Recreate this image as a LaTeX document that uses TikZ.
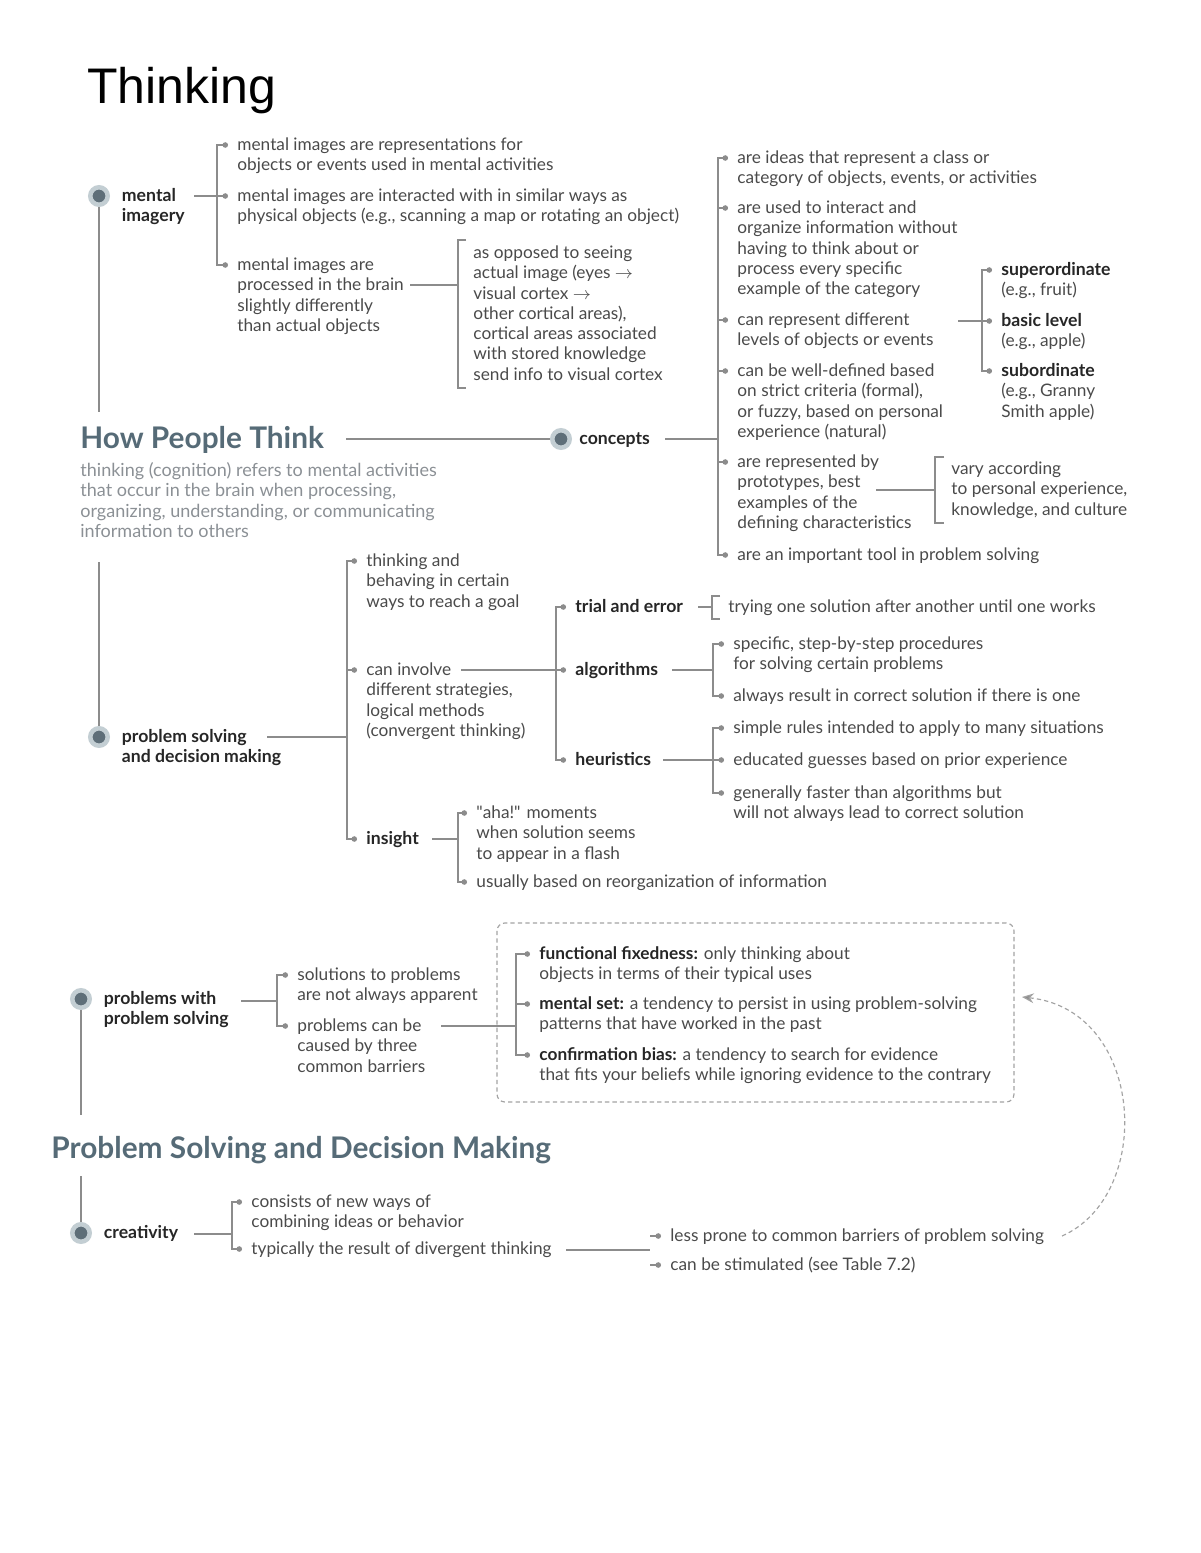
\documentclass[tikz,border=0pt]{standalone}
\usepackage{fontspec}
\setmainfont{Lato}
\newfontfamily\titlefont{Liberation Sans}
\usetikzlibrary{arrows.meta}

\definecolor{TextGray}{HTML}{4A4A4A}
\definecolor{LabelBlack}{HTML}{262626}
\definecolor{HeadBlue}{HTML}{566B77}
\definecolor{SubGray}{HTML}{8B9095}
\definecolor{LineGray}{HTML}{8C8C8C}
\definecolor{DotGray}{HTML}{5E6E78}
\definecolor{Halo}{HTML}{C3CED3}

\newcommand{\keyterm}[1]{\textcolor{LabelBlack}{\bfseries #1}}
% lines of a node, its baseline on the first one
\newcommand{\textlines}[1]{\begin{tabular}[t]{@{}l@{}}#1\end{tabular}}

\begin{document}
\begin{tikzpicture}[x=0.51pt, y=-0.51pt]
\useasboundingbox (0,0) rectangle (1200,1553);

\coordinate (TT) at (87,104);
\coordinate (HP) at (80,438);
\coordinate (HP_n) at (80,471);
\coordinate (HP_s) at (346,439);
\coordinate (HD) at (51,1148);

\coordinate (MI) at (99,196);
\coordinate (CO) at (561,439);
\coordinate (PS) at (99,737);
\coordinate (PP) at (81,999);
\coordinate (CR) at (81,1233);
\coordinate (SP_1) at (99,412);
\coordinate (SP_2) at (99,562);
\coordinate (SP_3) at (81,1115);
\coordinate (SP_4) at (81,1176);

\coordinate (MI_s) at (194,196);
\coordinate (MI_j) at (217,196);
\coordinate (MI_1) at (228,145);
\coordinate (MI_2) at (228,196);
\coordinate (MI_3) at (228,265);
\coordinate (OP_s) at (410,285);
\coordinate (OP_j) at (458,285);
\coordinate (OP_t) at (466,240);
\coordinate (OP_b) at (466,388);
\coordinate (OP_n) at (473,253);

\coordinate (CO_s) at (665,439);
\coordinate (CO_j) at (718,439);
\coordinate (CO_1) at (728,158);
\coordinate (CO_2) at (728,208);
\coordinate (CO_3) at (728,320);
\coordinate (CO_4) at (728,371);
\coordinate (CO_5) at (728,462);
\coordinate (CO_6) at (728,555);
\coordinate (LV_s) at (958,321);
\coordinate (LV_j) at (982,321);
\coordinate (LV_1) at (992,270);
\coordinate (LV_2) at (992,321);
\coordinate (LV_3) at (992,371);
\coordinate (VA_s) at (876,490);
\coordinate (VA_j) at (935,490);
\coordinate (VA_t) at (944,457);
\coordinate (VA_b) at (944,523);
\coordinate (VA_n) at (951,469);

\coordinate (PS_s) at (267,737);
\coordinate (PS_j) at (347,737);
\coordinate (PS_1) at (357,561);
\coordinate (PS_2) at (357,670);
\coordinate (PS_3) at (357,839);
\coordinate (ST_s) at (461,670);
\coordinate (ST_j) at (556,670);
\coordinate (ST_1) at (566,607);
\coordinate (ST_2) at (566,670);
\coordinate (ST_3) at (566,760);
\coordinate (TE_s) at (698,607);
\coordinate (TE_j) at (712,607);
\coordinate (TE_t) at (720,596);
\coordinate (TE_b) at (720,619);
\coordinate (TE_n) at (728,607);
\coordinate (AL_s) at (672,670);
\coordinate (AL_j) at (713,670);
\coordinate (AL_1) at (724,644);
\coordinate (AL_2) at (724,696);
\coordinate (HE_s) at (663,760);
\coordinate (HE_j) at (713,760);
\coordinate (HE_1) at (724,728);
\coordinate (HE_2) at (724,760);
\coordinate (HE_3) at (724,793);
\coordinate (IN_s) at (432,839);
\coordinate (IN_j) at (458,839);
\coordinate (IN_1) at (467,813);
\coordinate (IN_2) at (467,882);

\coordinate (PP_s) at (241,1001);
\coordinate (PP_j) at (277,1001);
\coordinate (PP_1) at (288,975);
\coordinate (PP_2) at (288,1026);
\coordinate (BA_s) at (441,1026);
\coordinate (BA_j) at (516,1026);
\coordinate (BA_1) at (530,954);
\coordinate (BA_2) at (530,1004);
\coordinate (BA_3) at (530,1055);
\coordinate (BOX_a) at (497,923);
\coordinate (BOX_b) at (1014,1102);
\coordinate (CR_s) at (194,1234);
\coordinate (CR_j) at (232,1234);
\coordinate (CR_1) at (242,1202);
\coordinate (CR_2) at (242,1249);
\coordinate (DV_s) at (566,1250);
\coordinate (DV_e) at (650,1250);
\coordinate (DV_1) at (661,1236);
\coordinate (DV_2) at (661,1265);
\coordinate (LOOP_a) at (1062,1236);
\coordinate (LOOP_b) at (1022,997);


\tikzset{TextBase/.style = {anchor=base west, inner sep=0pt,
 text=TextGray, font=\fontsize{8.8}{10.35}\selectfont} }
\tikzset{ItemStyle/.style = {TextBase, xshift=4.6pt, yshift=-2.8pt} }
\tikzset{NoteStyle/.style = {TextBase, yshift=-2.8pt} }
\tikzset{BoldStyle/.style = {TextBase, xshift=4.6pt, yshift=-2.9pt,
 text=LabelBlack, font=\fontsize{9}{10.35}\selectfont\bfseries} }
\tikzset{LabelStyle/.style = {TextBase, xshift=11.5pt, yshift=-2.9pt,
 text=LabelBlack, font=\fontsize{9}{10.35}\selectfont\bfseries} }
\tikzset{HeadStyle/.style = {TextBase, yshift=-5.6pt,
 text=HeadBlue, font=\fontsize{15.2}{17}\selectfont\bfseries} }
\tikzset{HubStyle/.style = {
 shape = circle,
 fill = DotGray,
 draw = Halo,
 line width = 2.3pt,
 inner sep = 0pt,
 minimum size = 8.9pt} }

\node[TextBase, text=black, font=\titlefont\fontsize{25.5}{30}\selectfont] (title) at (TT) {Thinking};
\node[HeadStyle] (tHP) at (HP) {How People Think};
\node[NoteStyle, text=SubGray, font=\fontsize{9.2}{10.35}\selectfont] (tHP_n) at (HP_n)
 {\textlines{thinking (cognition) refers to mental activities\\that occur in the brain when processing,\\organizing, understanding, or communicating\\information to others}};
\node[HeadStyle] (tHD) at (HD) {Problem Solving and Decision Making};

\node[HubStyle] (hMI) at (MI) {};
\node[HubStyle] (hCO) at (CO) {};
\node[HubStyle] (hPS) at (PS) {};
\node[HubStyle] (hPP) at (PP) {};
\node[HubStyle] (hCR) at (CR) {};

\node[LabelStyle] (tMI) at (MI) {\textlines{mental\\imagery}};
\node[LabelStyle, xshift=-2.3pt] (tCO) at (CO) {concepts};
\node[LabelStyle] (tPS) at (PS) {\textlines{problem solving\\and decision making}};
\node[LabelStyle] (tPP) at (PP) {\textlines{problems with\\problem solving}};
\node[LabelStyle] (tCR) at (CR) {creativity};

\node[ItemStyle] (tMI_1) at (MI_1) {\textlines{mental images are representations for\\objects or events used in mental activities}};
\node[ItemStyle] (tMI_2) at (MI_2) {\textlines{mental images are interacted with in similar ways as\\physical objects (e.g., scanning a map or rotating an object)}};
\node[ItemStyle] (tMI_3) at (MI_3) {\textlines{mental images are\\processed in the brain\\slightly differently\\than actual objects}};
\node[NoteStyle] (tOP) at (OP_n) {\textlines{as opposed to seeing\\actual image (eyes $\rightarrow$\\visual cortex $\rightarrow$\\other cortical areas),\\cortical areas associated\\with stored knowledge\\send info to visual cortex}};

\node[ItemStyle] (tCO_1) at (CO_1) {\textlines{are ideas that represent a class or\\category of objects, events, or activities}};
\node[ItemStyle] (tCO_2) at (CO_2) {\textlines{are used to interact and\\organize information without\\having to think about or\\process every specific\\example of the category}};
\node[ItemStyle] (tCO_3) at (CO_3) {\textlines{can represent different\\levels of objects or events}};
\node[ItemStyle] (tCO_4) at (CO_4) {\textlines{can be well-defined based\\on strict criteria (formal),\\or fuzzy, based on personal\\experience (natural)}};
\node[ItemStyle] (tCO_5) at (CO_5) {\textlines{are represented by\\prototypes, best\\examples of the\\defining characteristics}};
\node[ItemStyle] (tCO_6) at (CO_6) {are an important tool in problem solving};
\node[ItemStyle] (tLV_1) at (LV_1) {\textlines{{\fontsize{9}{10.35}\selectfont\keyterm{superordinate}}\\(e.g., fruit)}};
\node[ItemStyle] (tLV_2) at (LV_2) {\textlines{{\fontsize{9}{10.35}\selectfont\keyterm{basic level}}\\(e.g., apple)}};
\node[ItemStyle] (tLV_3) at (LV_3) {\textlines{{\fontsize{9}{10.35}\selectfont\keyterm{subordinate}}\\(e.g., Granny\\Smith apple)}};
\node[NoteStyle] (tVA) at (VA_n) {\textlines{vary according\\to personal experience,\\knowledge, and culture}};

\node[ItemStyle] (tPS_1) at (PS_1) {\textlines{thinking and\\behaving in certain\\ways to reach a goal}};
\node[ItemStyle] (tPS_2) at (PS_2) {\textlines{can involve\\different strategies,\\logical methods\\(convergent thinking)}};
\node[BoldStyle] (tPS_3) at (PS_3) {insight};
\node[BoldStyle] (tST_1) at (ST_1) {trial and error};
\node[BoldStyle] (tST_2) at (ST_2) {algorithms};
\node[BoldStyle] (tST_3) at (ST_3) {heuristics};
\node[NoteStyle] (tTE) at (TE_n) {trying one solution after another until one works};
\node[ItemStyle] (tAL_1) at (AL_1) {\textlines{specific, step-by-step procedures\\for solving certain problems}};
\node[ItemStyle] (tAL_2) at (AL_2) {always result in correct solution if there is one};
\node[ItemStyle] (tHE_1) at (HE_1) {simple rules intended to apply to many situations};
\node[ItemStyle] (tHE_2) at (HE_2) {educated guesses based on prior experience};
\node[ItemStyle] (tHE_3) at (HE_3) {\textlines{generally faster than algorithms but\\will not always lead to correct solution}};
\node[ItemStyle] (tIN_1) at (IN_1) {\textlines{\textquotedbl aha!\textquotedbl{} moments\\when solution seems\\to appear in a flash}};
\node[ItemStyle] (tIN_2) at (IN_2) {usually based on reorganization of information};

\node[ItemStyle] (tPP_1) at (PP_1) {\textlines{solutions to problems\\are not always apparent}};
\node[ItemStyle] (tPP_2) at (PP_2) {\textlines{problems can be\\caused by three\\common barriers}};
\node[ItemStyle] (tBA_1) at (BA_1) {\textlines{\keyterm{functional fixedness:} only thinking about\\objects in terms of their typical uses}};
\node[ItemStyle] (tBA_2) at (BA_2) {\textlines{\keyterm{mental set:} a tendency to persist in using problem-solving\\patterns that have worked in the past}};
\node[ItemStyle] (tBA_3) at (BA_3) {\textlines{\keyterm{confirmation bias:} a tendency to search for evidence\\that fits your beliefs while ignoring evidence to the contrary}};
\node[ItemStyle] (tCR_1) at (CR_1) {\textlines{consists of new ways of\\combining ideas or behavior}};
\node[ItemStyle] (tCR_2) at (CR_2) {typically the result of divergent thinking};
\node[ItemStyle] (tDV_1) at (DV_1) {less prone to common barriers of problem solving};
\node[ItemStyle] (tDV_2) at (DV_2) {can be stimulated (see Table 7.2)};


\tikzset{LinkStyle/.style = {draw=LineGray, line width=0.7pt} }
\tikzset{HookStyle/.style = {LinkStyle, -{Circle[length=2.8pt]}} }
\tikzset{BoxStyle/.style = {draw=LineGray!80, line width=0.6pt, dash pattern=on 2.2pt off 1.6pt, rounded corners=4pt} }
\tikzset{LoopStyle/.style = {draw=LineGray!80, line width=0.6pt, dash pattern=on 2.2pt off 1.6pt,
 -{Stealth[length=6pt, width=5pt, fill=LineGray]}} }

% spines
\draw[LinkStyle] (hMI) -- (SP_1);
\draw[LinkStyle] (SP_2) -- (hPS);
\draw[LinkStyle] (hPP) -- (SP_3);
\draw[LinkStyle] (SP_4) -- (hCR);
\draw[LinkStyle] (HP_s) -- (hCO);

% mental imagery
\draw[LinkStyle] (MI_s) -- (MI_j);
\foreach \c in {MI_1,MI_2,MI_3} \draw[HookStyle] (MI_j) |- (\c);
\draw[LinkStyle] (OP_s) -- (OP_j);
\draw[LinkStyle] (OP_t) -| (OP_j |- OP_b) -- (OP_b);

% concepts
\draw[LinkStyle] (CO_s) -- (CO_j);
\foreach \c in {CO_1,CO_2,CO_3,CO_4,CO_5,CO_6} \draw[HookStyle] (CO_j) |- (\c);
\draw[LinkStyle] (LV_s) -- (LV_j);
\foreach \c in {LV_1,LV_2,LV_3} \draw[HookStyle] (LV_j) |- (\c);
\draw[LinkStyle] (VA_s) -- (VA_j);
\draw[LinkStyle] (VA_t) -| (VA_j |- VA_b) -- (VA_b);

% problem solving
\draw[LinkStyle] (PS_s) -- (PS_j);
\foreach \c in {PS_1,PS_2,PS_3} \draw[HookStyle] (PS_j) |- (\c);
\draw[LinkStyle] (ST_s) -- (ST_j);
\foreach \c in {ST_1,ST_2,ST_3} \draw[HookStyle] (ST_j) |- (\c);
\draw[LinkStyle] (TE_s) -- (TE_j);
\draw[LinkStyle] (TE_t) -| (TE_j |- TE_b) -- (TE_b);
\draw[LinkStyle] (AL_s) -- (AL_j);
\foreach \c in {AL_1,AL_2} \draw[HookStyle] (AL_j) |- (\c);
\draw[LinkStyle] (HE_s) -- (HE_j);
\foreach \c in {HE_1,HE_2,HE_3} \draw[HookStyle] (HE_j) |- (\c);
\draw[LinkStyle] (IN_s) -- (IN_j);
\foreach \c in {IN_1,IN_2} \draw[HookStyle] (IN_j) |- (\c);

% problems with problem solving
\draw[LinkStyle] (PP_s) -- (PP_j);
\foreach \c in {PP_1,PP_2} \draw[HookStyle] (PP_j) |- (\c);
\draw[LinkStyle] (BA_s) -- (BA_j);
\foreach \c in {BA_1,BA_2,BA_3} \draw[HookStyle] (BA_j) |- (\c);
\draw[BoxStyle] (BOX_a) rectangle (BOX_b);

% creativity
\draw[LinkStyle] (CR_s) -- (CR_j);
\foreach \c in {CR_1,CR_2} \draw[HookStyle] (CR_j) |- (\c);
\draw[LinkStyle] (DV_s) -- (DV_e);
\foreach \c in {DV_1,DV_2} \draw[HookStyle] (DV_e |- \c) -- (\c);
\draw[LoopStyle] (LOOP_a) .. controls (1155,1195) and (1145,1010) .. (LOOP_b);

\end{tikzpicture}
\end{document}
